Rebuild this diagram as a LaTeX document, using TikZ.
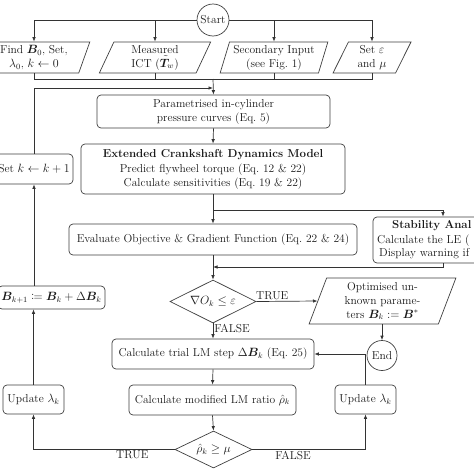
\documentclass[tikz,border=0pt]{standalone}
\usepackage{amsmath,mathtools,bm}
\usetikzlibrary{shapes.geometric,arrows.meta,calc}
\begin{document}
\begin{tikzpicture}[x=1pt,y=-1pt,
  font=\fontsize{11.5}{14}\selectfont,
  every node/.style={text=black!90},
  boxn/.style={draw=black!75, line width=0.7pt, rounded corners=4pt, align=center, inner sep=2pt},
  paran/.style={draw=black!75, line width=0.7pt, shape=trapezium, trapezium stretches=true, align=center, inner sep=1pt},
  termn/.style={draw=black!75, line width=0.7pt, circle, inner sep=0pt},
  decn/.style={draw=black!75, line width=0.7pt, diamond, inner sep=0pt, aspect=2},
  conn/.style={draw=black!80, line width=0.7pt},
  arr/.style={conn, -{Latex[length=4.5pt,width=3.5pt]}},
  lbl/.style={inner sep=1pt}
]
\useasboundingbox (0,0) rectangle (474,474);
\clip (0,0) rectangle (474,474);
\fill[white] (0,0) rectangle (474,474);

% nodes
\node[termn, minimum size=32pt] (start) at (213,20) {Start};
\node[paran, trapezium left angle=72, trapezium right angle=108, minimum width=112pt, minimum height=31pt] (p1) at (34,57.5) {Find $\boldsymbol{B}_0$, Set,\\ $\lambda_0$, $k\leftarrow 0$};
\node[paran, trapezium left angle=72, trapezium right angle=108, minimum width=112pt, minimum height=31pt] (p2) at (155,57.5) {Measured\\ ICT ($\tilde{\boldsymbol{T}}_w$)};
\node[paran, trapezium left angle=72, trapezium right angle=108, minimum width=108pt, minimum height=31pt] (p3) at (274,57.5) {Secondary Input\\ (see Fig.~1)};
\node[paran, trapezium left angle=69, trapezium right angle=111, minimum width=78pt, minimum height=31pt] (p4) at (372,57.5) {Set $\varepsilon$\\ and $\mu$};

\node[boxn, minimum width=233pt, minimum height=33pt] (param) at (213.5,111.5) {Parametrised in-cylinder\\ pressure curves (Eq.~5)};
\node[boxn, minimum width=264pt, minimum height=50pt] (ecdm) at (213,169) {\textbf{Extended Crankshaft Dynamics Model}\\[1pt] Predict flywheel torque (Eq.~12 \& 22)\\ Calculate sensitivities (Eq.~19 \& 22)};
\node[boxn, minimum width=78pt, minimum height=30pt] (setk) at (34,169) {Set $k\leftarrow k+1$};

\node[boxn, minimum width=288pt, minimum height=31pt] (eval) at (213,239.5) {Evaluate Objective \& Gradient Function (Eq.~22 \& 24)};
\node[boxn, minimum width=140pt, minimum height=46pt] (stab) at (443,240) {};
\node[lbl, anchor=base west] (stabA) at (391,228.5) {\textbf{Stability Anal}};
\node[lbl, anchor=base west] (stabB) at (376,243) {Calculate the LE (};
\node[lbl, anchor=base west] (stabC) at (378,256.5) {Display warning if};

\node[decn, minimum width=86pt, minimum height=43pt] (dec1) at (213,301.5) {$\nabla O_k\leq\varepsilon$};
\node[paran, trapezium left angle=73, trapezium right angle=107, minimum width=147pt, minimum height=46pt] (opt) at (382.5,301) {Optimised un-\\ known parame-\\ ters $\boldsymbol{B}_k := \boldsymbol{B}^{*}$};
\node[termn, minimum size=30pt] (end) at (382,355.5) {End};
\node[boxn, minimum width=107pt, minimum height=23pt] (bk1) at (51.5,297.5) {$\boldsymbol{B}_{k+1}\coloneqq\boldsymbol{B}_k+\Delta\boldsymbol{B}_k$};

\node[boxn, minimum width=202pt, minimum height=30pt] (trial) at (213,354) {Calculate trial LM step $\Delta\boldsymbol{B}_k$ (Eq.~25)};
\node[boxn, minimum width=167pt, minimum height=30pt] (ratio) at (212.5,400) {Calculate modified LM ratio $\hat{\rho}_k$};
\node[boxn, minimum width=61pt, minimum height=29pt] (updL) at (33.5,399.5) {Update $\lambda_k$};
\node[boxn, minimum width=61pt, minimum height=29pt] (updR) at (365.5,399.5) {Update $\lambda_k$};
\node[decn, minimum width=77pt, minimum height=37pt] (dec2) at (213.5,449.5) {$\hat{\rho}_k\geq\mu$};

\coordinate (m) at (213,79);
\coordinate (jn) at (213,88);
\coordinate (br) at (213,210);
\coordinate (rt) at (213,267);

% connectors
\draw[arr] (start.west) -| (p1.north);
\draw[arr] (start.west) -| (p2.north);
\draw[arr] (start.east) -| (p3.north);
\draw[arr] (start.east) -| (p4.north);
\draw[conn] (p1.south) |- (m);
\draw[conn] (p4.south) |- (m);
\draw[conn] (p2.south) -- (p2.south |- m);
\draw[conn] (p3.south) -- (p3.south |- m);
\draw[arr] (m) -- (param.north);
\draw[arr] (setk.north) |- (jn);
\draw[arr] (param.south) -- (ecdm.north);
\draw[arr] (ecdm.south) -- (eval.north);
\draw[arr] (br) -| (stab.north);
\draw[arr] (stab.south) |- (rt);
\draw[arr] (eval.south) -- (dec1.north);
\draw[arr] (dec1.east) -- node[lbl, above, pos=0.26] (ltrue1) {TRUE} (opt.west);
\draw[arr] (dec1.south) -- node[lbl, right, pos=0.35] (lfalse1) {FALSE} (trial.north);
\draw[arr] (opt.south -| end.north) -- (end.north);
\draw[arr] (trial.south) -- (ratio.north);
\draw[arr] (ratio.south) -- (dec2.north);
\draw[arr] (dec2.west) -| node[lbl, below, pos=0.15] (ltrue2) {TRUE} (updL.south);
\draw[arr] (dec2.east) -| node[lbl, below, pos=0.18] (lfalse2) {FALSE} (updR.south);
\draw[arr] (updL.north) -- (updL.north |- bk1.south);
\draw[arr] (bk1.north -| setk.south) -- (setk.south);
\draw[arr] (updR.north) |- (trial.east);
\end{tikzpicture}
\end{document}
